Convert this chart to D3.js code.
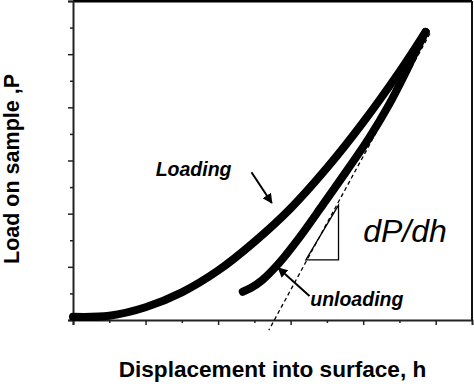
<!DOCTYPE html>
<html>
<head>
<meta charset="utf-8">
<script src="https://cdn.jsdelivr.net/npm/d3@7"></script>
<style>
  body { margin: 0; background: #fff; }
  text { font-family: "Liberation Sans", Arial, sans-serif; }
</style>
</head>
<body>
<div id="chart"></div>
<script>
// load-displacement curves, [h, P] in axis units
const loadingData = [
    [0, 0.06], [0.5, 0.08], [1.0, 0.24], [1.5, 0.52], [2.0, 0.93], [2.5, 1.47],
    [3.0, 2.1], [3.5, 2.86], [4.0, 3.72], [4.5, 4.67], [4.86, 5.42]
];
const unloadingData = [
    [4.86, 5.42], [4.73, 5.07], [4.58, 4.64], [4.36, 4.06], [4.08, 3.42], [3.77, 2.8],
    [3.44, 2.16], [3.12, 1.55], [2.84, 1.07], [2.6, 0.74], [2.45, 0.6], [2.34, 0.53]
];
// tangent to the top of the unloading curve
const tangentData = [[4.92, 5.39], [2.70, -0.19]];
// slope triangle
const triangleData = [[3.21, 1.13], [3.66, 1.13], [3.66, 2.16]];

const xMajorTicks = [0, 1, 2, 3, 4, 5];
const xMinorTicks = [0.5, 1.5, 2.5, 3.5, 4.5];
const yMajorTicks = [0, 1, 2, 3, 4, 5, 6];
const yMinorTicks = [0.5, 1.5, 2.5, 3.5, 4.5, 5.5];

const labels = [
    { text: "Loading", h: 1.14, p: 2.71, cls: "bi" },
    { text: "unloading", h: 3.27, p: 0.26, cls: "bi" },
    { text: "dP/dh", h: 4.0, p: 1.47, cls: "big" }
];
const arrows = [
    { from: [2.46, 2.78], to: [2.74, 2.20] },
    { from: [3.26, 0.45], to: [2.83, 0.98] }
];

const margin = { top: 1, right: 2, bottom: 64, left: 73 };
const width = 474 - margin.left - margin.right;
const height = 384 - margin.top - margin.bottom;

const svg = d3.select("#chart")
    .append("svg")
    .attr("width", 474)
    .attr("height", 384);

const g = svg.append("g")
    .attr("transform", `translate(${margin.left}, ${margin.top})`);

const x = d3.scaleLinear().domain([0, 5.5]).range([0, width]);
const y = d3.scaleLinear().domain([0, 6]).range([height, 0]);

// arrow marker
svg.append("defs").append("marker")
    .attr("id", "arrowhead")
    .attr("viewBox", "0 0 10 10")
    .attr("refX", 9)
    .attr("refY", 5)
    .attr("markerWidth", 5)
    .attr("markerHeight", 5)
    .attr("markerUnits", "strokeWidth")
    .attr("orient", "auto")
    .append("path")
    .attr("d", "M0,0 L10,5 L0,10 Z")
    .attr("fill", "#000");

// frame: top and right
g.append("line")
    .attr("x1", 0).attr("x2", width).attr("y1", 0).attr("y2", 0)
    .attr("stroke", "#000").attr("stroke-width", 3);
g.append("line")
    .attr("x1", width).attr("x2", width).attr("y1", 0).attr("y2", height)
    .attr("stroke", "#111").attr("stroke-width", 2);

// axes, no labels on the ticks
g.append("g").attr("transform", `translate(0, ${height})`)
    .call(d3.axisBottom(x).tickValues(xMajorTicks).tickSize(5).tickFormat(""));
g.append("g").attr("transform", `translate(0, ${height})`)
    .call(d3.axisBottom(x).tickValues(xMinorTicks).tickSize(3).tickFormat(""))
    .select(".domain").remove();
g.append("g")
    .call(d3.axisLeft(y).tickValues(yMajorTicks).tickSize(5).tickFormat(""));
g.append("g")
    .call(d3.axisLeft(y).tickValues(yMinorTicks).tickSize(3).tickFormat(""))
    .select(".domain").remove();

g.selectAll(".domain").attr("stroke", "#222").attr("stroke-width", 2);
g.selectAll(".tick line").attr("stroke", "#222").attr("stroke-width", 1.5);

const line = d3.line()
    .x(d => x(d[0]))
    .y(d => y(d[1]));

// tangent line
g.append("path")
    .datum(tangentData)
    .attr("d", line)
    .attr("fill", "none")
    .attr("stroke", "#000")
    .attr("stroke-width", 1.3)
    .attr("stroke-dasharray", "4,3");

// triangle
g.append("path")
    .attr("d", line(triangleData) + "Z")
    .attr("fill", "none")
    .attr("stroke", "#000")
    .attr("stroke-width", 1.3);

const curve = d3.line()
    .x(d => x(d[0]))
    .y(d => y(d[1]))
    .curve(d3.curveCatmullRom);

[loadingData, unloadingData].forEach(data => {
    g.append("path")
        .datum(data)
        .attr("d", curve)
        .attr("fill", "none")
        .attr("stroke", "#000")
        .attr("stroke-width", 8)
        .attr("stroke-linecap", "round")
        .attr("stroke-linejoin", "round");
});

// arrows
g.selectAll(".arrow")
    .data(arrows)
    .enter().append("line")
    .attr("class", "arrow")
    .attr("x1", d => x(d.from[0]))
    .attr("y1", d => y(d.from[1]))
    .attr("x2", d => x(d.to[0]))
    .attr("y2", d => y(d.to[1]))
    .attr("stroke", "#000")
    .attr("stroke-width", 2)
    .attr("marker-end", "url(#arrowhead)");

// annotation text
g.selectAll(".note")
    .data(labels)
    .enter().append("text")
    .attr("class", "note")
    .attr("x", d => x(d.h))
    .attr("y", d => y(d.p))
    .style("font-style", "italic")
    .style("font-weight", d => d.cls === "bi" ? "bold" : "normal")
    .style("font-size", d => d.cls === "bi" ? "19.5px" : "32px")
    .text(d => d.text);

// axis titles
svg.append("text")
    .attr("x", margin.left + width / 2)
    .attr("y", 377)
    .attr("text-anchor", "middle")
    .style("font-weight", "bold")
    .style("font-size", "22.6px")
    .text("Displacement into surface, h");

svg.append("text")
    .attr("transform", "translate(19, 169) rotate(-90)")
    .attr("text-anchor", "middle")
    .style("font-weight", "bold")
    .style("font-size", "21.5px")
    .text("Load on sample ,P");
</script>
</body>
</html>
